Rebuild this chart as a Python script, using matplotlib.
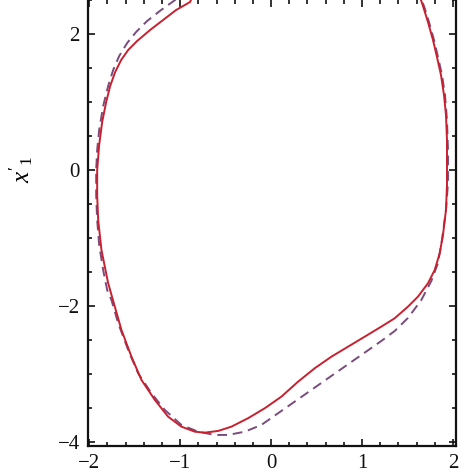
import matplotlib
matplotlib.use('Agg')
import matplotlib.pyplot as plt
from matplotlib.ticker import MultipleLocator

plt.rcParams['font.family'] = ['Liberation Serif', 'DejaVu Serif']
plt.rcParams['mathtext.fontset'] = 'custom'
plt.rcParams['mathtext.rm'] = 'Liberation Serif'
plt.rcParams['mathtext.it'] = 'Liberation Serif:italic'
plt.rcParams['axes.unicode_minus'] = True

# solid curve
x_solid = [-0.868, -0.890, -1.044, -1.187, -1.330, -1.473, -1.571, -1.648,
           -1.714, -1.769, -1.813, -1.857, -1.890, -1.912, -1.912, -1.901,
           -1.865, -1.791, -1.718, -1.645, -1.535, -1.425, -1.278, -1.132,
           -0.986, -0.838, -0.729, -0.582, -0.436, -0.253, -0.069, 0.113,
           0.297, 0.480, 0.663, 0.846, 1.030, 1.212, 1.359, 1.505, 1.615,
           1.725, 1.799, 1.854, 1.890, 1.923, 1.934, 1.934, 1.923, 1.901,
           1.868, 1.824, 1.780, 1.725, 1.670, 1.637]
y_solid = [2.544, 2.471, 2.353, 2.206, 2.059, 1.897, 1.765, 1.618,
           1.441, 1.235, 1.000, 0.706, 0.368, 0.000, -0.368, -0.735,
           -1.176, -1.666, -2.010, -2.353, -2.746, -3.088, -3.382, -3.628,
           -3.775, -3.849, -3.863, -3.838, -3.775, -3.651, -3.504, -3.334,
           -3.113, -2.916, -2.746, -2.599, -2.451, -2.304, -2.181, -2.010, -1.863,
           -1.666, -1.471, -1.225, -0.956, -0.588, -0.221, 0.441, 0.809, 1.103,
           1.397, 1.662, 1.912, 2.176, 2.412, 2.544]

# dashed curve
x_dash = [-1.033, -1.055, -1.209, -1.363, -1.484, -1.582, -1.670, -1.736,
          -1.791, -1.846, -1.890, -1.912, -1.923, -1.923, -1.912, -1.890,
          -1.846, -1.802, -1.755, -1.681, -1.571, -1.462, -1.315, -1.168,
          -0.986, -0.802, -0.619, -0.473, -0.289, -0.107, 0.113, 0.333,
          0.553, 0.773, 0.992, 1.212, 1.359, 1.505, 1.652, 1.762, 1.835,
          1.879, 1.923, 1.945, 1.945, 1.934, 1.912, 1.879, 1.835, 1.791,
          1.736, 1.681, 1.637]
y_dash = [2.544, 2.500, 2.353, 2.191, 2.029, 1.868, 1.676, 1.471,
          1.235, 0.941, 0.588, 0.294, 0.000, -0.368, -0.735, -1.103,
          -1.471, -1.765, -1.912, -2.254, -2.647, -2.990, -3.284, -3.529,
          -3.750, -3.849, -3.897, -3.897, -3.849, -3.750, -3.544, -3.338,
          -3.132, -2.926, -2.721, -2.515, -2.368, -2.176, -1.912, -1.632, -1.368,
          -1.029, -0.588, -0.191, 0.294, 0.735, 1.103, 1.397, 1.662, 1.912,
          2.176, 2.412, 2.544]

x_ticks = [-2, -1, 0, 1, 2]
y_ticks = [-4, -2, 0, 2]

fig = plt.figure(figsize=(4.74, 4.74), dpi=100)
fig.set_facecolor('w')
ax = fig.add_axes([0.186, 0.059, 0.776, 0.941])

ax.plot(x_dash, y_dash, color='#7a4b7c', lw=1.4, dashes=(5, 3))
ax.plot(x_solid, y_solid, color='#c8202f', lw=1.4)

ax.set_xlim(-2.011, 2.033)
ax.set_ylim(-4.06, 2.5)
ax.set_xticks(x_ticks)
ax.set_yticks(y_ticks)
ax.xaxis.set_minor_locator(MultipleLocator(0.2))
ax.yaxis.set_minor_locator(MultipleLocator(0.5))
ax.tick_params(which='both', direction='in', top=True, right=True,
               width=1.2, labelsize=15, colors='#111111')
ax.tick_params(which='major', length=5, pad=6)
ax.tick_params(which='minor', length=3)
ax.spines['top'].set_visible(False)
for s in ['left', 'right', 'bottom']:
    ax.spines[s].set_linewidth(1.6)
    ax.spines[s].set_color('#111111')

ax.set_ylabel(r"$x'_1$", fontsize=18)
ax.yaxis.set_label_coords(-0.145, 0.619)

fig.savefig('out.png', dpi=100)
